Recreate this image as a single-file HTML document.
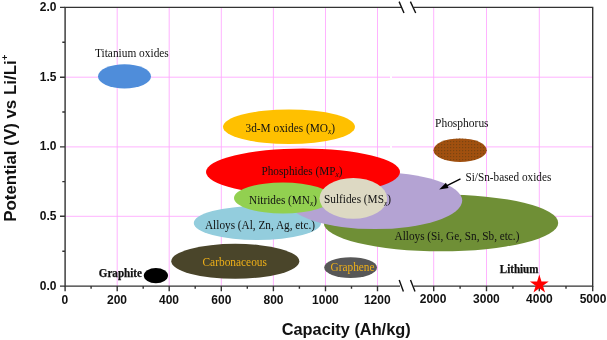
<!DOCTYPE html>
<html>
<head>
<meta charset="utf-8">
<title>Potential vs Capacity</title>
<style>
html,body{margin:0;padding:0;background:#fff;}
body{width:607px;height:340px;overflow:hidden;}
svg{display:block;}
.ax{stroke:#333;stroke-width:1.4;fill:none;}
.gr{stroke:#ffaaff;stroke-width:0.9;fill:none;}
.tk{font-family:"Liberation Sans",Arial,sans-serif;font-weight:bold;font-size:12px;fill:#111;}
.ti{font-family:"Liberation Sans",Arial,sans-serif;font-weight:bold;font-size:16px;fill:#111;}
.sf{font-family:"Liberation Serif","Times New Roman",serif;font-size:11.5px;fill:#111;}
.sb{font-family:"Liberation Serif","Times New Roman",serif;font-size:11.5px;font-weight:bold;fill:#111;stroke:#111;stroke-width:0.25;}
</style>
</head>
<body>
<svg width="607" height="340" viewBox="0 0 607 340">
<defs><pattern id="dots" width="3" height="3" patternUnits="userSpaceOnUse"><rect x="0" y="0" width="1.2" height="1.2" fill="#5a3a10" fill-opacity="0.55"/></pattern></defs>
<rect x="0" y="0" width="607" height="340" fill="#ffffff"/>

<!-- grid -->
<g class="gr">
<line x1="117.2" y1="8" x2="117.2" y2="286"/>
<line x1="169.2" y1="8" x2="169.2" y2="286"/>
<line x1="221.3" y1="8" x2="221.3" y2="286"/>
<line x1="273.4" y1="8" x2="273.4" y2="286"/>
<line x1="325.5" y1="8" x2="325.5" y2="286"/>
<line x1="377.5" y1="8" x2="377.5" y2="286"/>
<line x1="433.7" y1="8" x2="433.7" y2="286"/>
<line x1="486.5" y1="8" x2="486.5" y2="286"/>
<line x1="539.3" y1="8" x2="539.3" y2="286"/>
<line x1="66" y1="77.2" x2="390" y2="77.2"/>
<line x1="392" y1="77.2" x2="592" y2="77.2"/>
<line x1="66" y1="146.9" x2="390" y2="146.9"/>
<line x1="392" y1="146.9" x2="592" y2="146.9"/>
<line x1="66" y1="216.3" x2="390" y2="216.3"/>
<line x1="392" y1="216.3" x2="592" y2="216.3"/>
</g>

<!-- regions (back to front) -->
<ellipse cx="441" cy="222.9" rx="117.2" ry="28.4" fill="#6f8f36"/>
<ellipse cx="257.4" cy="223.1" rx="63.6" ry="17" fill="#93cddd"/>
<ellipse cx="375" cy="200.6" rx="87.2" ry="28.5" fill="#b4a3d3"/>
<ellipse cx="303" cy="172" rx="97" ry="23.5" fill="#ff0000"/>
<ellipse cx="283" cy="198" rx="49" ry="15.5" fill="#92d050"/>
<ellipse cx="353.3" cy="198.4" rx="33.8" ry="20.4" fill="#ddd9c3"/>
<ellipse cx="124.5" cy="76.4" rx="26.5" ry="12.1" fill="#4f8dda"/>
<ellipse cx="289" cy="126.8" rx="66" ry="17.3" fill="#ffc000"/>
<ellipse cx="460.1" cy="150.2" rx="26.6" ry="11.8" fill="#a1500f"/>
<ellipse cx="460.1" cy="150.2" rx="26.6" ry="11.8" fill="url(#dots)"/>
<ellipse cx="235.3" cy="261.3" rx="64" ry="17.5" fill="#4a452a"/>
<ellipse cx="350.6" cy="267.6" rx="26.4" ry="10.4" fill="#575757"/>
<ellipse cx="155.9" cy="275.6" rx="12.1" ry="7.6" fill="#000000"/>

<!-- axes -->
<g class="ax">
<path d="M65.1 7.4 H401 M413.7 7.4 H592.7 V286.1 H413.7 M400 286.1 H65.1 V6.7"/>
<!-- y major ticks -->
<path d="M60 7.4 H65 M60 77.2 H65 M60 146.9 H65 M60 216.3 H65 M60 286.1 H65"/>
<!-- y minor ticks -->
<path d="M62.3 42.3 H65 M62.3 112 H65 M62.3 181.6 H65 M62.3 251.2 H65"/>
<!-- x major ticks -->
<path d="M65.1 286 V291.3 M117.2 286 V291.3 M169.2 286 V291.3 M221.3 286 V291.3 M273.4 286 V291.3 M325.5 286 V291.3 M377.5 286 V291.3 M433.7 286 V291.3 M486.5 286 V291.3 M539.3 286 V291.3 M592.7 286 V291.3"/>
<!-- x minor ticks -->
<path d="M91.1 286 V288.8 M143.2 286 V288.8 M195.2 286 V288.8 M247.3 286 V288.8 M299.4 286 V288.8 M351.5 286 V288.8 M460.1 286 V288.8 M512.9 286 V288.8 M566 286 V288.8"/>
</g>
<!-- axis break marks -->
<g stroke="#111" stroke-width="1.4" fill="none">
<path d="M399.1 1.6 L404 13 M410.4 1.6 L415.7 13"/>
<path d="M399.2 280 L403.4 291.4 M410.5 280 L415 291.4"/>
</g>

<!-- lithium star -->
<polygon fill="#ff0000" points="539.3,274.6 541.5,281.4 548.7,281.4 542.9,285.7 545.1,292.5 539.3,288.3 533.5,292.5 535.7,285.7 529.9,281.4 537.1,281.4"/>

<!-- arrow -->
<line x1="460.5" y1="178.8" x2="445" y2="186.6" stroke="#000" stroke-width="1.3"/>
<polygon fill="#000" points="439.2,189.5 445.9,182.8 448.6,188.1"/>

<!-- labels -->
<text class="sf" x="95" y="57" textLength="73.8" lengthAdjust="spacingAndGlyphs">Titanium oxides</text>
<text class="sf" x="245.5" y="132" textLength="89.5" lengthAdjust="spacingAndGlyphs">3d-M oxides (MO<tspan font-size="7.5px" font-style="italic" dy="2.2">x</tspan><tspan dy="-2.2">)</tspan></text>
<text class="sf" x="435" y="127" textLength="53.6" lengthAdjust="spacingAndGlyphs">Phosphorus</text>
<text class="sf" x="261.5" y="175.2" textLength="81" lengthAdjust="spacingAndGlyphs">Phosphides (MP<tspan font-size="7.5px" font-style="italic" dy="2.2">x</tspan><tspan dy="-2.2">)</tspan></text>
<text class="sf" x="249" y="203.5" textLength="68" lengthAdjust="spacingAndGlyphs">Nitrides (MN<tspan font-size="7.5px" font-style="italic" dy="2.2">x</tspan><tspan dy="-2.2">)</tspan></text>
<text class="sf" x="324" y="203.4" textLength="67" lengthAdjust="spacingAndGlyphs">Sulfides (MS<tspan font-size="7.5px" font-style="italic" dy="2.2">x</tspan><tspan dy="-2.2">)</tspan></text>
<text class="sf" x="465.5" y="180.5" textLength="85.8" lengthAdjust="spacingAndGlyphs">Si/Sn-based oxides</text>
<text class="sf" x="205" y="228.5" textLength="110" lengthAdjust="spacingAndGlyphs">Alloys (Al, Zn, Ag, etc.)</text>
<text class="sf" x="394.6" y="239.8" textLength="124.8" lengthAdjust="spacingAndGlyphs">Alloys (Si, Ge, Sn, Sb, etc.)</text>
<text class="sf" x="202.5" y="265.8" textLength="64.5" lengthAdjust="spacingAndGlyphs" style="fill:#efb018">Carbonaceous</text>
<text class="sf" x="330.5" y="271.3" textLength="44" lengthAdjust="spacingAndGlyphs" style="fill:#efb018">Graphene</text>
<text class="sb" x="98.8" y="276.8" textLength="43.2" lengthAdjust="spacingAndGlyphs">Graphite</text>
<text class="sb" x="499.8" y="273.4" textLength="38.6" lengthAdjust="spacingAndGlyphs">Lithium</text>

<!-- y tick labels -->
<g class="tk" text-anchor="end">
<text x="56.5" y="10.9">2.0</text>
<text x="56.5" y="80.6">1.5</text>
<text x="56.5" y="150.3">1.0</text>
<text x="56.5" y="219.8">0.5</text>
<text x="56.5" y="289.9">0.0</text>
</g>
<!-- x tick labels -->
<g class="tk" text-anchor="middle">
<text x="64.8" y="304.4">0</text>
<text x="117" y="304.4">200</text>
<text x="169" y="304.4">400</text>
<text x="221.3" y="304.4">600</text>
<text x="273.5" y="304.4">800</text>
<text x="325.4" y="304.4">1000</text>
<text x="377.3" y="304.4">1200</text>
<text x="433.1" y="303.2">2000</text>
<text x="486.4" y="303.2">3000</text>
<text x="539.4" y="303.2">4000</text>
<text x="593" y="303.2">5000</text>
</g>

<!-- axis titles -->
<text class="ti" x="281.7" y="335.3" textLength="129" lengthAdjust="spacingAndGlyphs">Capacity (Ah/kg)</text>
<text class="ti" style="font-size:16.4px" transform="translate(16.2 221.8) rotate(-90)"><tspan textLength="161.5" lengthAdjust="spacingAndGlyphs">Potential (V) vs Li/Li</tspan><tspan font-size="9.5px" dy="-8.6">+</tspan></text>
</svg>
</body>
</html>
